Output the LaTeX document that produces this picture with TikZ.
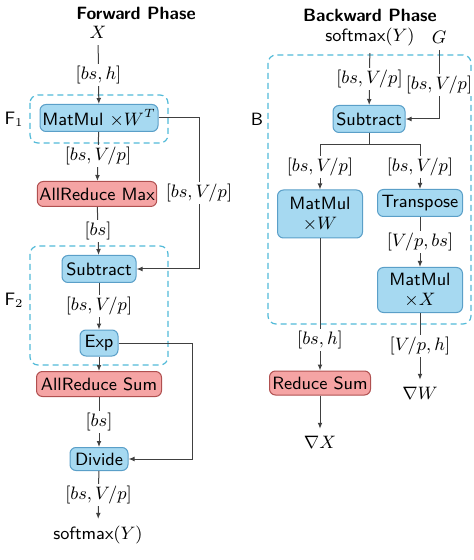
\documentclass[tikz,border=0pt]{standalone}
\usepackage{amsmath}
\usetikzlibrary{arrows.meta,calc}
\definecolor{bfill}{HTML}{A6D9F1}
\definecolor{bdraw}{HTML}{5A9FC8}
\definecolor{rfill}{HTML}{F5A4A4}
\definecolor{rdraw}{HTML}{B05050}
\definecolor{dashc}{HTML}{52BAD8}
\definecolor{lnc}{HTML}{404040}
\begin{document}
\begin{tikzpicture}[x=0.5pt,y=-0.5pt,
  font=\fontsize{8.9}{10}\selectfont\sffamily,
  opblue/.style={draw=bdraw, fill=bfill, rounded corners=3pt, line width=0.5pt, inner sep=1pt, align=center},
  opred/.style={draw=rdraw, fill=rfill, rounded corners=3pt, line width=0.5pt, inner sep=1pt, align=center},
  conn/.style={draw=lnc, line width=0.5pt, -{Latex[length=3pt,width=2.4pt]}},
  plain/.style={draw=lnc, line width=0.5pt},
  lbl/.style={fill=white, inner sep=1pt},
  grp/.style={draw=dashc, line width=0.6pt, dash pattern=on 3pt off 2pt, rounded corners=4pt},
  ttl/.style={font=\fontsize{8.9}{10}\selectfont\sffamily\bfseries}]
\useasboundingbox (0,0) rectangle (474,560);
% ---------- Forward ----------
\node[ttl] (ft) at (136,13) {Forward Phase};
\node (X) at (98,32) {$X$};
\draw[grp] (30,95) rectangle (168,143);
\node (F1) at (14,119) {$\mathsf{F}_1$};
\node[opblue, minimum width=59pt, minimum height=13.5pt] (mm1) at (99,118) {MatMul $\times W^{T}$};
\node[opred, minimum width=58.5pt, minimum height=12.5pt] (amax) at (97,194) {AllReduce Max};
\draw[grp] (30,246) rectangle (168,365);
\node (F2) at (14,300) {$\mathsf{F}_2$};
\node[opblue, minimum width=37pt, minimum height=13.5pt] (sub1) at (99,269) {Subtract};
\node[opblue, minimum width=19pt, minimum height=13pt] (exp) at (99,343) {Exp};
\node[opred, minimum width=62.5pt, minimum height=12.5pt] (asum) at (99,384) {AllReduce Sum};
\node[opblue, minimum width=29pt, minimum height=11.5pt] (div) at (99,459) {Divide};
\node (smf) at (98,535) {softmax$(Y)$};
\coordinate (c1) at (199,118);
\coordinate (c2) at (192,343);

\draw[conn] (X) -- node[lbl]{$[bs,h]$} (mm1);
\draw[conn] (mm1) -- node[lbl]{$[bs,V/p]$} (amax);
\draw[conn] (amax) -- node[lbl]{$[bs]$} (sub1);
\draw[conn] (sub1) -- node[lbl]{$[bs,V/p]$} (exp);
\draw[conn] (exp) -- (asum);
\draw[conn] (asum) -- node[lbl]{$[bs]$} (div);
\draw[conn] (div) -- node[lbl]{$[bs,V/p]$} (smf);
\draw[conn] (mm1.east) -- (c1) |- node[lbl,pos=0.25]{$[bs,V/p]$} (sub1.east);
\draw[conn] (exp.east) -- (c2) |- (div.east);

% ---------- Backward ----------
\node[ttl] (bt) at (370,15) {Backward Phase};
\node (smb) at (370,37) {softmax$(Y)$};
\node (G) at (439,37) {$G$};
\draw[grp] (268,55) rectangle (471,324);
\node (B) at (257,119) {B};
\node[opblue, minimum width=36pt, minimum height=13.5pt] (sub2) at (369,119) {Subtract};
\node[opblue, minimum width=42.5pt, minimum height=24pt] (mmw) at (320,214) {MatMul\\$\times W$};
\node[opblue, minimum width=42.5pt, minimum height=13.5pt] (tr) at (420,203) {Transpose};
\node[opblue, minimum width=42.5pt, minimum height=22.5pt] (mmx) at (420,290) {MatMul\\$\times X$};
\node[opred, minimum width=50.5pt, minimum height=12pt] (rsum) at (320,383) {Reduce Sum};
\node (gw) at (420,393) {$\nabla W$};
\node (gx) at (320,442) {$\nabla X$};
\coordinate (c3) at (369,145);

\draw[conn] (smb) -- node[lbl]{$[bs,V/p]$} (sub2);
\draw[conn] (G) |- node[lbl,pos=0.25]{$[bs,V/p]$} (sub2.east);
\draw[plain] (sub2) -- (c3);
\draw[conn] (c3) -| node[lbl,pos=0.75]{$[bs,V/p]$} (mmw.north);
\draw[conn] (c3) -| node[lbl,pos=0.75]{$[bs,V/p]$} (tr.north);
\draw[conn] (tr) -- node[lbl]{$[V/p,bs]$} (mmx);
\draw[conn] (mmx) -- node[lbl]{$[V/p,h]$} (gw);
\draw[conn] (mmw) -- node[lbl,pos=0.77]{$[bs,h]$} (rsum);
\draw[conn] (rsum) -- (gx);
\end{tikzpicture}
\end{document}
